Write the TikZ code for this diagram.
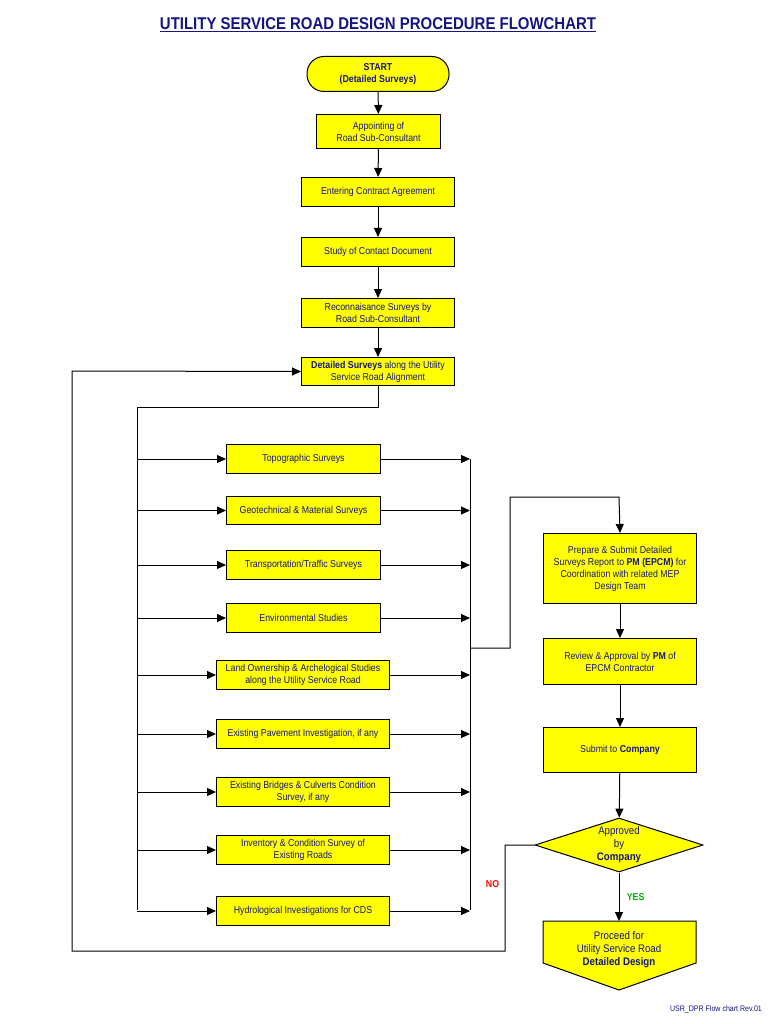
\documentclass[tikz,border=0pt]{standalone}
\usepackage{fontspec}
\setmainfont{Liberation Sans}[FakeStretch=0.88]
\usetikzlibrary{shapes.geometric,arrows.meta}
\definecolor{txt}{RGB}{20,20,130}
\definecolor{fill}{RGB}{255,255,0}
\begin{document}
\begin{tikzpicture}[x=1pt,y=-1pt,
 box/.style={draw,line width=1pt,fill=fill,text=txt,font=\fontsize{10}{12}\selectfont,align=center,inner sep=1pt,anchor=north west},
 arr/.style={line width=1pt,-{Triangle[length=9pt,width=8pt]}},
 ln/.style={line width=1pt}]
\useasboundingbox (0,0) rectangle (768,1024);
\node[text=txt,font=\bfseries\fontsize{17}{20}\selectfont] (title) at (378,25) {\underline{UTILITY SERVICE ROAD DESIGN PROCEDURE FLOWCHART}};
\node[box,anchor=center,minimum width=142pt,minimum height=35pt,rounded corners=17pt,font=\bfseries\fontsize{10}{12}\selectfont] (s) at (378,74) {START\\(Detailed Surveys)};
\newcommand\bx[6]{\node[box,minimum width=#4pt,minimum height=#5pt] (#1) at (#2,#3) {#6};}
\bx{a}{316}{114}{124}{34}{Appointing of\\Road Sub-Consultant}
\bx{e}{301}{177}{153}{29}{Entering Contract Agreement}
\bx{st}{301}{237}{153}{29}{Study of Contact Document}
\bx{r}{301}{298}{153}{29}{Reconnaisance Surveys by\\Road Sub-Consultant}
\bx{d}{301}{357}{153}{28}{\textbf{Detailed Surveys} along the Utility\\Service Road Alignment}
\bx{b1}{226}{444}{154}{29}{Topographic Surveys}
\bx{b2}{226}{496}{154}{28}{Geotechnical \& Material Surveys}
\bx{b3}{226}{550}{154}{29}{Transportation/Traffic Surveys}
\bx{b4}{226}{603}{154}{29}{Environmental Studies}
\bx{b5}{216}{660}{173}{29}{Land Ownership \& Archelogical Studies\\along the Utility Service Road}
\bx{b6}{216}{719}{173}{29}{Existing Pavement Investigation, if any}
\bx{b7}{216}{777}{173}{29}{Existing Bridges \& Culverts Condition\\Survey, if any}
\bx{b8}{216}{835}{173}{29}{Inventory \& Condition Survey of\\Existing Roads}
\bx{b9}{216}{896}{173}{29}{Hydrological Investigations for CDS}
\bx{p}{543}{533}{153}{70}{Prepare \& Submit Detailed\\Surveys Report to \textbf{PM (EPCM)} for\\Coordination with related MEP\\Design Team}
\bx{rv}{543}{638}{153}{46}{Review \& Approval by \textbf{PM} of\\EPCM Contractor}
\bx{sb}{543}{727}{153}{45}{Submit to \textbf{Company}}
\node[diamond,draw,line width=1pt,fill=fill,text=txt,font=\fontsize{11}{13}\selectfont,align=center,minimum width=168pt,minimum height=54pt,inner sep=0pt,aspect=3.1] (dm) at (619,845) {Approved\\by\\\textbf{Company}};
\draw[line width=1pt,fill=fill] (543,921) -- (696,921) -- (696,963) -- (619,990) -- (543,963) -- cycle;
\node[text=txt,font=\fontsize{11}{13}\selectfont,align=center,inner sep=0pt] (pr) at (619,950) {Proceed for\\Utility Service Road\\\textbf{Detailed Design}};
\coordinate (prt) at (619,921);
\foreach \u/\v in {s/a,a/e,e/st,st/r,r/d,p/rv,rv/sb,sb/dm} \draw[arr] (\u) -- (\v);
\draw[arr] (dm) -- node[right=4pt,text=green!70!black,font=\bfseries\fontsize{10}{12}\selectfont]{YES} (prt);
\coordinate (L) at (137,407);
\draw[ln] (d.south) |- (L) -- (137,910);
\foreach \b in {b1,b2,b3,b4,b5,b6,b7,b8,b9} {
 \draw[arr] (137,0 |- \b.west) -- (\b.west);
 \draw[arr] (\b.east) -- (470,0 |- \b.east);
}
\draw[ln] (470,459) -- (470,910);
\coordinate (j) at (470,648);
\draw[arr] (j) -- (510,648) -- (510,497) -- (619,497) -- (p.north);
\draw[arr] (dm.west) -- (505,845) -- node[left=2pt,pos=0.37,text=red,font=\bfseries\fontsize{10}{12}\selectfont]{NO} (505,951) -- (72,951) -- (72,371) -- (d.west);
\node[text=txt,font=\fontsize{8}{10}\selectfont] (ft) at (716,1009) {USR\_DPR Flow chart Rev.01};
\end{tikzpicture}
\end{document}
